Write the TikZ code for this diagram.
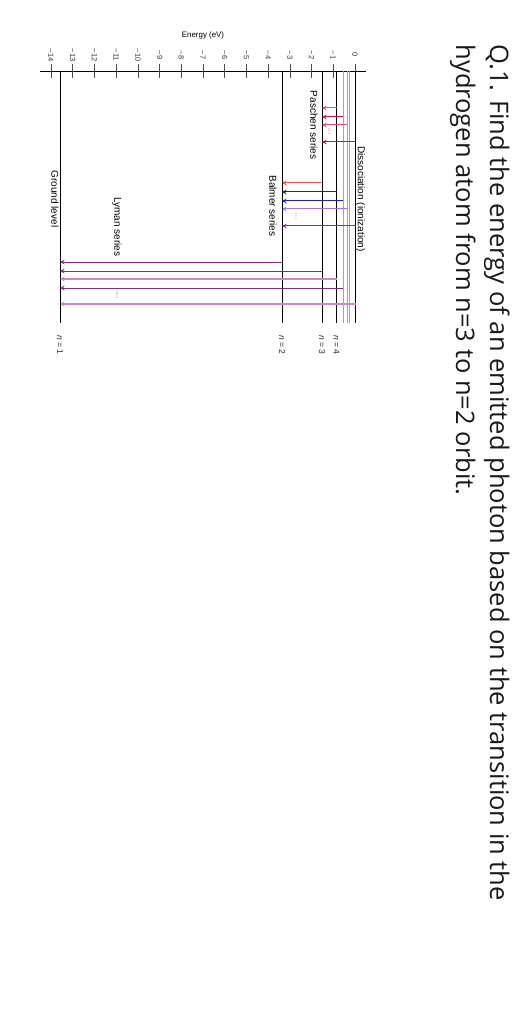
\documentclass[tikz,border=0pt]{standalone}
\usepackage{fontspec}
\setmainfont{Liberation Sans}
\newfontfamily\qfont{Open Sans}
\usetikzlibrary{arrows.meta}
\definecolor{pschlight}{RGB}{240,70,130}
\definecolor{pschdark}{RGB}{215,10,90}
\definecolor{blmred}{RGB}{245,70,80}
\definecolor{blmgreen}{RGB}{10,70,10}
\definecolor{blmblue}{RGB}{30,30,225}
\definecolor{blmviolet}{RGB}{160,115,245}
\definecolor{blmpurple}{RGB}{135,45,155}
\definecolor{lymdark}{RGB}{140,35,145}
\definecolor{lymlight}{RGB}{205,135,205}
\definecolor{lvlgray}{RGB}{165,165,165}
\definecolor{qtext}{RGB}{25,25,25}

\begin{document}
\begin{tikzpicture}[x=1pt, y=-1pt,
  level/.style={black, line width=0.8pt},
  sublevel/.style={lvlgray, line width=0.8pt},
  photon/.style={-{Stealth[length=4.5pt,width=4.5pt]}, line width=1pt},
  widephoton/.style={-{Stealth[length=4.5pt,width=4.5pt]}, line width=2.2pt},
  vlabel/.style={rotate=-90, font=\fontsize{10}{12}\selectfont},
  ticklabel/.style={rotate=-90, font=\fontsize{7.5}{9}\selectfont, gray!40!black},
  nlabel/.style={rotate=-90, font=\fontsize{8.5}{10}\selectfont, gray!30!black},
  dotlabel/.style={rotate=-90, font=\fontsize{9}{10}\selectfont},
  qline/.style={anchor=base west, rotate=-90, qtext, font=\qfont\fontsize{25.5}{30}\selectfont}]
\useasboundingbox (0,0) rectangle (531,1024);

% --- Energy axis ---
\draw[line width=0.8pt] (40,71) -- (366,71);
\node[font=\fontsize{7.9}{9}\selectfont] (elabel) at (203,35) {Energy (eV)};
\foreach \e in {0,...,14} {
  \draw[gray!60!black, line width=0.6pt] ({355-21.71*\e},64) -- ({355-21.71*\e},78);
  \ifnum\e=0 \node[ticklabel] (t\e) at ({355-21.71*\e},55) {0};
  \else \node[ticklabel] (t\e) at ({355-21.71*\e},55) {−\e}; \fi
}

% --- Energy levels ---
\coordinate (bot) at (0,323);
\coordinate (n1) at (60,71);
\coordinate (n2) at (282,71);
\coordinate (n3) at (322,71);
\coordinate (n4) at (336.5,71);
\coordinate (n5) at (343,71);
\coordinate (n6) at (347,71);
\coordinate (n7) at (349.5,71);
\coordinate (ninf) at (355.5,71);
\foreach \n in {n1,n2,n3,n4,ninf} \draw[level] (\n) -- (\n |- bot);
\foreach \n in {n5,n6,n7} \draw[sublevel] (\n) -- (\n |- bot);
\node[nlabel] (lab1) at (n1 |- 0,345) {\textit{n} = 1};
\node[nlabel] (lab2) at (n2 |- 0,345) {\textit{n} = 2};
\node[nlabel] (lab3) at (n3 |- 0,345) {\textit{n} = 3};
\node[nlabel] (lab4) at (n4 |- 0,345) {\textit{n} = 4};

% --- Paschen series (to n = 3) ---
\draw[photon, pschlight] (n4 |- 0,108) -- (n3 |- 0,108);
\draw[photon, pschdark] (n5 |- 0,117) -- (n3 |- 0,117);
\draw[photon, pschlight] (n6 |- 0,125) -- (n3 |- 0,125);
\draw[photon, pschdark] (ninf |- 0,142) -- (n3 |- 0,142);
\node[dotlabel, pschlight] (pdots) at (329,131) {...};
\node[vlabel] (paschen) at (314,125) {Paschen series};

% --- Balmer series (to n = 2) ---
\draw[photon, blmred] (n3 |- 0,183) -- (n2 |- 0,183);
\draw[photon, blmgreen] (n4 |- 0,192) -- (n2 |- 0,192);
\draw[photon, blmblue] (n5 |- 0,201) -- (n2 |- 0,201);
\draw[photon, blmviolet] (n6 |- 0,209) -- (n2 |- 0,209);
\draw[photon, blmpurple] (ninf |- 0,226) -- (n2 |- 0,226);
\node[dotlabel, blmviolet] (bdots) at (296,216) {...};
\node[vlabel] (balmer) at (273,206) {Balmer series};

% --- Lyman series (to n = 1) ---
\draw[photon, lymdark] (n2 |- 0,262) -- (n1 |- 0,262);
\draw[photon, lymdark] (n3 |- 0,271) -- (n1 |- 0,271);
\draw[widephoton, lymlight] (n4 |- 0,279) -- (n1 |- 0,279);
\draw[photon, lymdark] (n5 |- 0,288) -- (n1 |- 0,288);
\draw[widephoton, lymlight] (ninf |- 0,304) -- (n1 |- 0,304);
\node[dotlabel, gray!70!black] (ldots) at (117,295) {...};
\node[vlabel] (lyman) at (117,227) {Lyman series};
\node[vlabel] (ground) at (55,199) {Ground level};
\node[vlabel] (diss) at (360.5,199) {Dissociation (ionization)};

% --- Question ---
\node[qline] (q1) at (490,41) {Q.1. Find the energy of an emitted photon based on the transition in the};
\node[qline] (q2) at (456,41) {hydrogen atom from n=3 to n=2 orbit.};
\end{tikzpicture}
\end{document}
